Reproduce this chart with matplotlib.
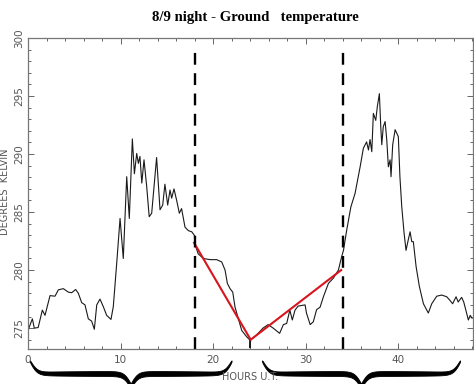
import numpy as np
import matplotlib
matplotlib.use("Agg")
import matplotlib.pyplot as plt
import matplotlib.transforms as mtrans

# ---- data ----
hours = [0.0, 0.47, 0.68, 1.1, 1.55, 1.84, 2.38, 2.92, 3.28, 3.82, 4.36, 4.72, 5.15, 5.44, 5.8,
         6.16, 6.52, 6.88, 7.17, 7.43, 7.78, 8.14, 8.5, 8.97, 9.22, 9.59, 9.95, 10.3, 10.67,
         10.95, 11.28, 11.5, 11.75, 11.93, 12.1, 12.3, 12.54, 12.83, 13.1, 13.37, 13.9, 14.27,
         14.56, 14.8, 15.1, 15.35, 15.53, 15.78, 16.07, 16.36, 16.6, 16.97, 17.33, 17.7, 17.98,
         18.05, 18.4, 18.95, 19.68, 20.4, 20.94, 21.3, 21.55, 21.84, 22.13, 22.38, 22.74, 23.1,
         23.64, 23.95, 24.0, 24.07, 24.7, 25.4, 25.95, 26.5, 27.2, 27.6, 27.96, 28.3, 28.57,
         28.86, 29.2, 29.95, 30.1, 30.5, 30.84, 31.2, 31.57, 31.93, 32.47, 33.0, 33.55, 33.9,
         34.1, 34.45, 34.9, 35.35, 35.9, 36.25, 36.6, 36.8, 36.97, 37.16, 37.33, 37.59, 37.76,
         37.98, 38.13, 38.24, 38.4, 38.6, 38.78, 38.95, 39.14, 39.24, 39.42, 39.68, 40.03, 40.2,
         40.4, 40.65, 40.86, 41.1, 41.3, 41.48, 41.65, 41.95, 42.3, 42.74, 43.27, 43.64, 44.18,
         44.72, 45.26, 45.6, 45.9, 46.27, 46.5, 46.87, 47.1, 47.4, 47.6, 47.8, 48.0]
temps = [274.8, 275.8, 275.0, 275.05, 276.55, 276.1, 277.8, 277.75, 278.3, 278.4, 278.1, 278.05,
         278.33, 278.0, 277.2, 277.0, 275.8, 275.6, 274.9, 277.0, 277.5, 276.85, 276.1, 275.75,
         276.85, 280.6, 284.45, 281.0, 288.05, 284.45, 291.3, 288.3, 290.05, 289.2, 289.8, 287.5,
         289.5, 287.2, 284.6, 284.9, 289.7, 285.2, 285.6, 287.4, 285.6, 286.9, 286.2, 287.0,
         286.0, 284.9, 285.3, 283.7, 283.4, 283.3, 283.0, 282.2, 281.4, 281.0, 280.9, 280.9,
         280.7, 280.0, 278.85, 278.4, 278.1, 276.8, 275.8, 274.8, 274.25, 274.0, 273.3, 274.0,
         274.4, 275.0, 275.3, 275.0, 274.55, 275.3, 275.4, 276.55, 275.7, 276.55, 276.9, 277.0,
         276.3, 275.3, 275.55, 276.6, 276.8, 277.7, 278.85, 279.3, 280.0, 281.15, 281.7, 283.45,
         285.45, 286.6, 288.9, 290.5, 291.05, 290.35, 291.25, 290.2, 293.5, 292.9, 294.1, 295.2,
         292.35, 290.8, 292.35, 292.8, 291.2, 288.9, 289.5, 288.05, 290.8, 292.1, 291.5, 288.05,
         285.45, 283.2, 281.7, 282.6, 283.3, 282.45, 282.45, 280.3, 278.6, 277.1, 276.3, 277.1,
         277.75, 277.85, 277.7, 277.4, 277.1, 277.7, 277.25, 277.65, 277.25, 276.3, 275.7,
         276.1, 275.85]

trend_hours = [17.95, 24.07, 33.85]
trend_temps = [282.35, 274.0, 280.0]

marker_hours = [18.0, 34.0]
marker_tops = [299.2, 299.0]

brace_spans = [(0.2, 22.0), (25.3, 46.7)]

title = "8/9 night - Ground   temperature"
xlabel = "HOURS U.T."
ylabel = "DEGREES  KELVIN"

# ---- figure ----
W, H = 474, 384
fig = plt.figure(figsize=(W / 100, H / 100), dpi=100)
ax = fig.add_axes([28 / W, 1 - 349 / H, 445 / W, 311 / H])

gray = "#666666"
ax.plot(hours, temps, color="#1a1a1a", lw=0.8)
ax.plot(trend_hours, trend_temps, color="#d8141c", lw=1.5)
for xh, yt in zip(marker_hours, marker_tops):
    ax.plot([xh, xh], [273.2, yt], color="black", lw=1.7, dashes=(5, 3.6))

ax.set_xlim(0, 48.1)
ax.set_ylim(273.2, 300)
ax.set_xticks([0, 10, 20, 30, 40])
ax.set_xticks(np.arange(0, 49, 2), minor=True)
ax.set_yticks([275, 280, 285, 290, 295, 300])
ax.set_yticks(np.arange(274, 301, 1), minor=True)
ax.tick_params(which="both", direction="in", top=True, right=True, color=gray,
               labelcolor="#555555", labelsize=7.5, width=0.7)
ax.tick_params(which="major", length=4)
ax.tick_params(which="minor", length=2)
ax.tick_params(axis="x", pad=4)
ax.tick_params(axis="y", pad=3)
for lab in ax.get_yticklabels():
    lab.set_rotation(90)
    lab.set_va("center")
for sp in ax.spines.values():
    sp.set_color("#777777")
    sp.set_linewidth(0.9)

fig.text(255 / W, 1 - 18 / H, title, ha="center", va="center",
         fontfamily="Liberation Serif", fontweight="bold", fontsize=10.6)
fig.text(250 / W, 1 - 377 / H, xlabel, ha="center", va="center",
         color="#555555", fontsize=7)
fig.text(5 / W, 1 - 192 / H, ylabel, ha="center", va="center", rotation=90,
         color="#555555", fontsize=7)

# curly braces under the axis
trans = mtrans.blended_transform_factory(ax.transData, fig.transFigure)
def brace(x0, x1, beta=2.6):
    xm = (x0 + x1) / 2
    xs = np.linspace(x0, xm, 200)
    v = 1 / (1 + np.exp(-beta * (xs - x0))) + 1 / (1 + np.exp(-beta * (xs - xm)))
    xx = np.concatenate([xs, (2 * xm - xs)[::-1]])
    vv = np.concatenate([v, v[::-1]])
    ypix = 361 + (vv - 0.5) * 25
    thick = 1.2 + 3.8 * np.sin(np.pi * (xx - x0) / (x1 - x0)) ** 0.3
    ytop = 1 - (ypix - thick / 2) / H
    ybot = 1 - (ypix + thick / 2) / H
    ax.fill_between(xx, ybot, ytop, transform=trans, color="black",
                    lw=0.6, clip_on=False)

for a, b in brace_spans:
    brace(a, b)

fig.savefig("out.png", dpi=100)
